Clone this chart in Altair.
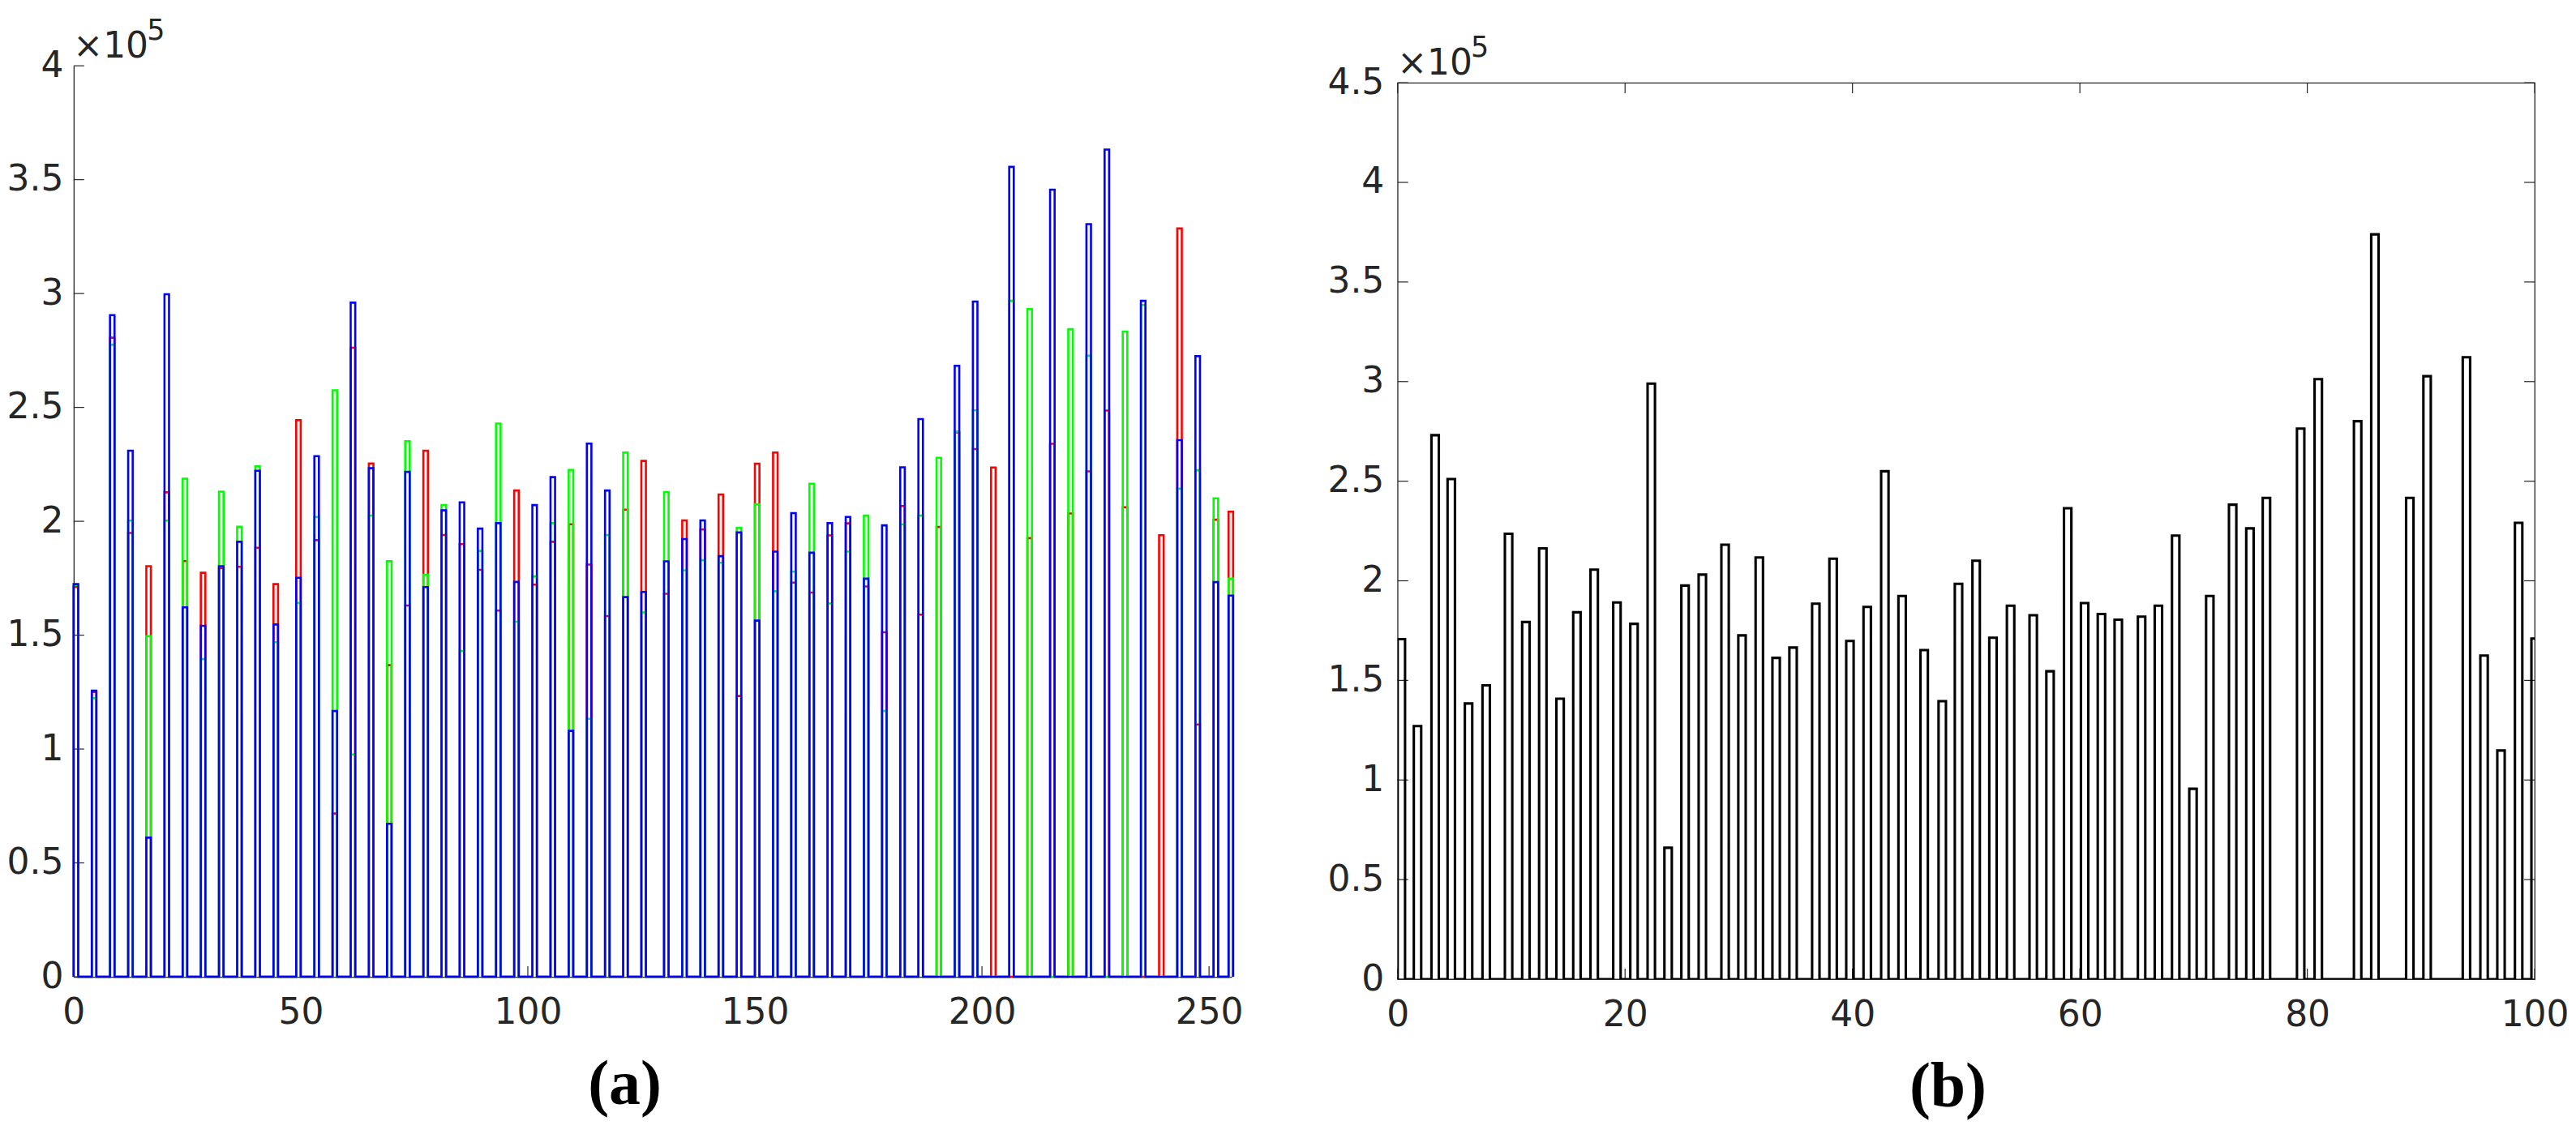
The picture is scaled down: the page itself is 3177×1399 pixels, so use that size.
import altair as alt
import pandas as pd

# ---------------- panel (a): R, G, B histograms (64 occupied bins) ----------------
a_bin_left = [0, 4, 8, 12, 16, 20, 24, 28, 32, 36, 40, 44, 49, 53, 57, 61,
              65, 69, 73, 77, 81, 85, 89, 93, 97, 101, 105, 109, 113, 117, 121, 125,
              130, 134, 138, 142, 146, 150, 154, 158, 162, 166, 170, 174, 178, 182, 186, 190,
              194, 198, 202, 206, 210, 215, 219, 223, 227, 231, 235, 239, 243, 247, 251, 254.3]
a_red = [171100, 125000, 280600, 194900, 180300, 212700, 182500, 177400, 179400, 180000, 188400, 172400, 244400, 191700, 71700, 276200,
         225400, 136800, 163000, 231000, 194000, 190000, 178700, 160800, 213500, 172200, 191000, 198700, 181000, 158400, 205100, 226500,
         168200, 200400, 196400, 211800, 123300, 225300, 230200, 173100, 168700, 193800, 199100, 171400, 151300, 206700, 159000, 197500,
         239000, 231700, 223600, 0, 192600, 234000, 203400, 221900, 248600, 206200, 0, 193900, 328600, 110800, 200700, 204200]
a_green = [172000, 122300, 277500, 200300, 149600, 200300, 218700, 139500, 213000, 197600, 224100, 146900, 164200, 201900, 257500, 97600,
           202500, 182500, 235200, 176500, 207100, 143100, 187000, 242900, 155900, 175800, 199200, 222500, 113300, 194000, 230200, 160000,
           212800, 178500, 182900, 181800, 197100, 207500, 169300, 177900, 216500, 163900, 186700, 202500, 116700, 198600, 202500, 227900,
           239400, 248700, 0, 296800, 293200, 0, 284400, 272700, 0, 283300, 295000, 0, 214300, 222400, 210100, 174800]
a_blue = [172400, 125600, 290500, 231000, 61100, 299700, 162200, 154100, 180300, 191000, 222200, 154700, 175200, 228600, 116700, 296000,
          223300, 67200, 221700, 171100, 204800, 208300, 196800, 199200, 173400, 207100, 219400, 108000, 234100, 213500, 166700, 169000,
          182400, 192200, 200400, 184700, 195100, 156400, 186700, 203600, 186200, 199200, 201900, 174800, 198200, 223700, 244900, 0,
          268300, 296500, 0, 355600, 0, 345600, 0, 330500, 363200, 0, 296800, 0, 235600, 272500, 173300, 167400]
a_xticks = [0, 50, 100, 150, 200, 250]
a_yticks = [0, 50000, 100000, 150000, 200000, 250000, 300000, 350000, 400000]

# ---------------- panel (b): single histogram ----------------
b_bin_left = [0, 1.42, 2.97, 4.39, 5.91, 7.46, 9.43, 10.95, 12.44, 13.96, 15.44, 16.96, 18.96, 20.46, 21.98,
              23.46, 24.95, 26.47, 28.47, 29.96, 31.48, 32.96, 34.45, 36.45, 37.97, 39.45, 40.97, 42.52, 44.04,
              45.98, 47.57, 49.0, 50.55, 52.03, 53.58, 55.57, 57.05, 58.6, 60.09, 61.57, 63.05, 65.1, 66.58,
              68.1, 69.62, 71.1, 73.11, 74.63, 76.08, 79.09, 80.64, 84.1, 85.62, 88.69, 90.21, 93.67, 95.22,
              96.71, 98.26, 99.71]
b_counts = [170700, 127100, 273100, 251100, 138400, 147500, 223600, 179300, 216300, 140800, 184200, 205600,
            189100, 178400, 299000, 66000, 197600, 203100, 218100, 172600, 211700, 161300, 166500, 188500,
            211100, 169800, 186900, 255000, 192400, 165200, 139600, 198500, 210100, 171400, 187500, 182700,
            154600, 236400, 188800, 183300, 180500, 182000, 187500, 222700, 95600, 192400, 238200, 226300,
            241600, 276400, 301200, 280100, 373900, 241600, 302700, 312200, 162500, 114800, 229100, 171000]
b_xticks = [0, 20, 40, 60, 80, 100]
b_yticks = [0, 50000, 100000, 150000, 200000, 250000, 300000, 350000, 400000, 450000]

AX = "#262626"
FONT = "DejaVu Sans"
TL = 13             # inward tick length
WA, HA = 1431, 1126
WB, HB = 1405, 1108
A_BAR_W = 1.0
B_BAR_W = 0.65


def stairs(lefts, counts, width):
    rows = []
    for left, c in zip(lefts, counts):
        for x, y in ((left, 0), (left, c), (left + width, c), (left + width, 0)):
            rows.append({"x": x, "y": y, "i": len(rows)})
    return pd.DataFrame(rows)


def x_axis(values, h, domain):
    return alt.Axis(values=values, ticks=False, grid=False, domain=domain, domainColor=AX, domainWidth=1.3,
                    labelFont=FONT, labelFontSize=44, labelColor=AX, labelPadding=23, labelFlush=False,
                    labelOverlap=False, title="5", titleFont=FONT, titleFontSize=35, titleFontWeight="normal",
                    titleColor=AX, titleX=90, titleY=-(h + 33), titleAlign="left", titleBaseline="alphabetic",
                    titleAngle=0)


def y_axis(values, pad, domain):
    return alt.Axis(values=values, ticks=False, grid=False, domain=domain, domainColor=AX, domainWidth=1.3,
                    labelFont=FONT, labelFontSize=44, labelColor=AX, labelPadding=pad, labelOverlap=False,
                    labelExpr="format(datum.value / 100000, '~g')",
                    title="×10", titleFont=FONT, titleFontSize=44, titleFontWeight="normal", titleColor=AX,
                    titleAngle=0, titleX=-1, titleY=-10.5, titleAlign="left", titleBaseline="alphabetic")


def panel(lines, xs, ys, xt, yt, w, h, xaxis, yaxis, box):
    xdf = pd.DataFrame({"x": xt})
    ydf = pd.DataFrame({"y": yt})
    layers = [
        alt.Chart(xdf).mark_rule(color=AX, strokeWidth=1.2).encode(
            x=alt.X("x:Q", scale=xs, axis=xaxis), y=alt.value(h), y2=alt.value(h - TL)),
        alt.Chart(ydf).mark_rule(color=AX, strokeWidth=1.2).encode(
            y=alt.Y("y:Q", scale=ys, axis=yaxis), x=alt.value(0), x2=alt.value(TL)),
    ]
    if box:
        layers += [
            alt.Chart(xdf).mark_rule(color=AX, strokeWidth=1.2).encode(
                x=alt.X("x:Q", scale=xs, axis=xaxis), y=alt.value(0), y2=alt.value(TL)),
            alt.Chart(ydf).mark_rule(color=AX, strokeWidth=1.2).encode(
                y=alt.Y("y:Q", scale=ys, axis=yaxis), x=alt.value(w), x2=alt.value(w - TL)),
        ]
    for df, color, sw, clip in lines:
        layers.append(
            alt.Chart(df).mark_line(color=color, strokeWidth=sw, clip=clip, strokeJoin="miter").encode(
                x=alt.X("x:Q", scale=xs, axis=xaxis),
                y=alt.Y("y:Q", scale=ys, axis=yaxis),
                order=alt.Order("i:Q"))
        )
    return alt.layer(*layers)


xs_a = alt.Scale(domain=[0, 255], nice=False, zero=False)
ys_a = alt.Scale(domain=[0, 400000], nice=False)
xs_b = alt.Scale(domain=[0, 100], nice=False, zero=False)
ys_b = alt.Scale(domain=[0, 450000], nice=False)

cap = dict(orient="bottom", anchor="middle", frame="bounds", font="Liberation Serif", fontSize=78,
           fontWeight="bold", color="black", offset=28)

chart_a = panel(
    [(stairs(a_bin_left, a_red, A_BAR_W), "#ff0000", 2.6, False),
     (stairs(a_bin_left, a_green, A_BAR_W), "#00ff00", 2.6, False),
     (stairs(a_bin_left, a_blue, A_BAR_W), "#0000ff", 2.6, False)],
    xs_a, ys_a, a_xticks, a_yticks, WA, HA,
    x_axis(a_xticks, HA, True), y_axis(a_yticks, 13, True), box=False,
).properties(width=WA, height=HA, title=alt.TitleParams("(a)", **cap))

chart_b = panel(
    [(stairs(b_bin_left, b_counts, B_BAR_W), "#000000", 3.1, True)],
    xs_b, ys_b, b_xticks, b_yticks, WB, HB,
    x_axis(b_xticks, HB, False), y_axis(b_yticks, 17, False), box=True,
).properties(width=WB, height=HB, title=alt.TitleParams("(b)", **cap),
             view=alt.ViewBackground(stroke=AX, strokeWidth=1.3))


def spacer(h):
    # empty strip used to offset a panel vertically
    return alt.Chart(pd.DataFrame({"s": [0]})).mark_rule(opacity=0).encode(
        x=alt.value(0), y=alt.value(0), y2=alt.value(1)
    ).properties(width=1, height=h)


left = alt.vconcat(spacer(1), chart_a, spacing=0)
right = alt.vconcat(spacer(21), chart_b, spacing=0)

chart = alt.hconcat(left, right, spacing=103).properties(
    padding={"left": 0, "top": 10, "right": 0, "bottom": 0},
    background="white",
).configure_view(stroke=None)

chart.save("out.html", embed_options={"renderer": "svg", "actions": False})
